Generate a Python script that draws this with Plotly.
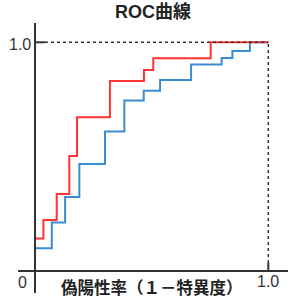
import plotly.graph_objects as go

# ROC points (FPR, TPR), tops of each vertical step
red_fpr = [0.0, 0.0, 0.036, 0.093, 0.147, 0.180, 0.321, 0.467, 0.507, 0.753, 1.0]
red_tpr = [0.057, 0.142, 0.223, 0.337, 0.503, 0.672, 0.831, 0.879, 0.930, 1.0, 1.0]

blue_fpr = [0.0, 0.0, 0.072, 0.129, 0.190, 0.300, 0.383, 0.466, 0.536, 0.669, 0.800, 0.846, 0.921, 1.0]
blue_tpr = [0.0, 0.099, 0.212, 0.324, 0.468, 0.610, 0.746, 0.788, 0.835, 0.903, 0.931, 0.962, 1.0, 1.0]

title_text = "ROC曲線"
x_title = "偽陽性率（１－特異度）"
y_title = "陽性率（感度）"
x_tick_labels = ["0", "1.0"]
y_tick_labels = ["1.0"]

XR = [-0.0729, 1.0844]
YR = [-0.0962, 1.0844]
FONT = "Liberation Sans, Arial, Noto Sans CJK JP, sans-serif"
AX = "#333333"

fig = go.Figure()
fig.add_trace(go.Scatter(x=blue_fpr, y=blue_tpr, mode="lines", line_shape="hv",
                         line=dict(color="#3A8DD0", width=2), hoverinfo="skip"))
fig.add_trace(go.Scatter(x=red_fpr, y=red_tpr, mode="lines", line_shape="hv",
                         line=dict(color="#FF3333", width=2), hoverinfo="skip"))

shapes = [
    # axes crossing at origin
    dict(type="line", x0=XR[0], x1=XR[1], y0=0, y1=0, line=dict(color=AX, width=2)),
    dict(type="line", x0=0, x1=0, y0=YR[0], y1=YR[1], line=dict(color=AX, width=2)),
    # ticks
    dict(type="line", x0=0, x1=0.043, y0=1, y1=1, line=dict(color=AX, width=2)),
    dict(type="line", x0=1, x1=1, y0=0, y1=0.035, line=dict(color=AX, width=2)),
    # dotted guides
    dict(type="line", x0=0.043, x1=1, y0=1, y1=1, line=dict(color=AX, width=1.5, dash="dot")),
    dict(type="line", x0=1, x1=1, y0=0.035, y1=1, line=dict(color=AX, width=1.5, dash="dot")),
]

annotations = [
    dict(x=-0.055, y=-0.052, xref="x", yref="y", text=x_tick_labels[0], showarrow=False,
         font=dict(family=FONT, size=16, color=AX)),
    dict(x=1.0, y=-0.048, xref="x", yref="y", text=x_tick_labels[1], showarrow=False,
         font=dict(family=FONT, size=16, color=AX)),
    dict(x=-0.066, y=0.99, xref="x", yref="y", text=y_tick_labels[0], showarrow=False,
         font=dict(family=FONT, size=16, color=AX)),
    dict(x=0.5, y=-0.074, xref="x", yref="y", text="<b>" + x_title + "</b>", showarrow=False,
         font=dict(family=FONT, size=16.5, color="#222222")),
    dict(x=-0.098, y=0.51, xref="x", yref="y", text="<b>" + y_title + "</b>", showarrow=False,
         textangle=-90, font=dict(family=FONT, size=16.5, color="#222222")),
    dict(x=0.5, y=1.0407, xref="paper", yref="paper", text="<b>" + title_text + "</b>",
         showarrow=False, yanchor="middle", font=dict(family=FONT, size=18, color="#222222")),
]

fig.update_layout(
    width=292, height=300,
    margin=dict(l=18, r=4, t=23, b=7),
    paper_bgcolor="white", plot_bgcolor="white",
    showlegend=False,
    shapes=shapes, annotations=annotations,
    xaxis=dict(range=XR, visible=False, fixedrange=True),
    yaxis=dict(range=YR, visible=False, fixedrange=True),
)

fig.write_html("out.html", config={"displayModeBar": False})
